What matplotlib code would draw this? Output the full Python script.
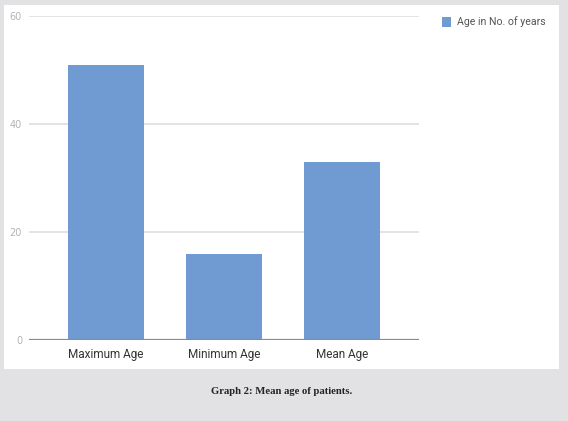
import matplotlib.pyplot as plt
import numpy as np
from matplotlib.patches import Rectangle

categories = ['Maximum Age', 'Minimum Age', 'Mean Age']
ages = [51, 16, 33]
y_ticks = [0, 20, 40, 60]
series_name = 'Age in No. of years'
caption = 'Graph 2: Mean age of patients.'

bar_color = '#6f9bd2'

fig = plt.figure(figsize=(5.68, 4.21), dpi=100)
fig.patch.set_facecolor('#e2e2e4')

# white chart panel (behind the axes)
W, H = 568, 421
fig.patches.append(Rectangle((4 / W, 1 - 369 / H), 555 / W, 364 / H,
                             transform=fig.transFigure, facecolor='white',
                             edgecolor='none', zorder=-10))

ax = fig.add_axes([29 / W, 1 - 340 / H, 390 / W, 324 / H])
ax.set_facecolor('none')

x = np.arange(len(categories))
ax.bar(x, ages, width=0.64, color=bar_color, label=series_name, zorder=3)

ax.set_xlim(-0.655, len(categories) - 1 + 0.655)
ax.set_ylim(0, 60)
ax.set_yticks(y_ticks)
ax.set_yticklabels([str(t) for t in y_ticks])
ax.set_xticks(x)
ax.set_xticklabels(categories, fontsize=8.5, color='#333333', family='Roboto')
ax.tick_params(axis='x', length=0, pad=6)
ax.tick_params(axis='y', length=0, pad=5, labelsize=7, labelcolor='#b3b3b3')

for t in y_ticks[1:]:
    ax.axhline(t, color='#dedede', lw=1.2, zorder=1)
ax.axhline(0, color='#8a8a8a', lw=1.6, zorder=4)

for s in ax.spines.values():
    s.set_visible(False)

ax.legend(loc='upper left', bbox_to_anchor=(432 / W, 1 - 7 / H),
          bbox_transform=fig.transFigure, frameon=False,
          handlelength=0.9, handleheight=1.1, handletextpad=0.55,
          prop={'family': 'Roboto', 'size': 7.6}, labelcolor='#555555')

fig.text(282 / W, 1 - 392 / H, caption, ha='center', va='center',
         fontsize=7.7, fontweight='bold', family='Liberation Serif',
         color='#222222')

fig.savefig('out.png', dpi=100, facecolor=fig.get_facecolor())
